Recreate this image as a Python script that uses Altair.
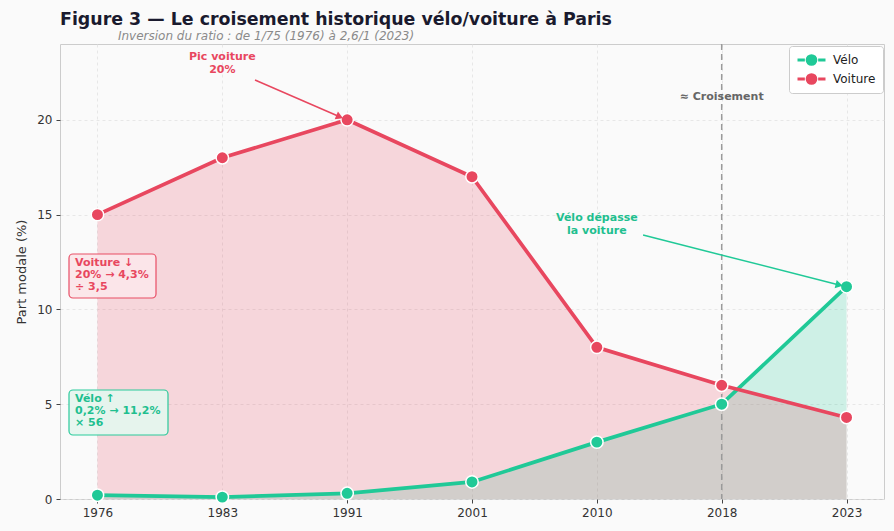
import altair as alt
import pandas as pd

# ---- data ----
years = ["1976", "1983", "1991", "2001", "2010", "2018", "2023"]
velo = [0.2, 0.1, 0.3, 0.9, 3.0, 5.0, 11.2]
voiture = [15.0, 18.0, 20.0, 17.0, 8.0, 6.0, 4.3]
modes = ["Vélo", "Voiture"]

GREEN = "#20c997"
RED = "#e8475f"
FONT = "DejaVu Sans"

rows = []
for i, y in enumerate(years):
    rows.append({"idx": i, "year": y, "mode": "Vélo", "value": velo[i]})
    rows.append({"idx": i, "year": y, "mode": "Voiture", "value": voiture[i]})
df = pd.DataFrame(rows)

label_expr = "[" + ",".join(f"'{y}'" for y in years) + "][datum.value]"

x_enc = alt.X("idx:Q", scale=alt.Scale(domain=[-0.3, 6.3], nice=False, zero=False),
              axis=alt.Axis(values=list(range(len(years))), labelExpr=label_expr, title=None,
                            grid=True, gridDash=[3, 3], gridColor="#e2e2e2", gridWidth=0.8,
                            tickColor="#444", tickSize=4, domain=False,
                            labelFontSize=12, labelColor="#333", labelPadding=4))
y_enc = alt.Y("value:Q", stack=None, scale=alt.Scale(domain=[0, 24], nice=False),
              axis=alt.Axis(values=[0, 5, 10, 15, 20], title="Part modale (%)",
                            grid=True, gridDash=[3, 3], gridColor="#e2e2e2", gridWidth=0.8,
                            tickColor="#444", tickSize=4, domain=False,
                            labelFontSize=12, labelColor="#333", labelPadding=4,
                            titleFontSize=13, titleFontWeight="normal", titleColor="#333",
                            titlePadding=8))

legend = alt.Legend(
    title=None, orient="none", legendX=729, legendY=2,
    padding=7, fillColor="white", strokeColor="#cccccc", cornerRadius=3,
    labelFontSize=12, labelColor="#222", labelFont=FONT, labelOffset=13,
    symbolType="M-2,0L-0.95,0M0.95,0L2,0M0.62,0A0.62,0.62,0,1,1,-0.62,0A0.62,0.62,0,1,1,0.62,0Z",
    symbolSize=196, symbolOffset=7, symbolStrokeWidth=3, symbolOpacity=1,
    rowPadding=5, clipHeight=14,
)
color_enc = alt.Color("mode:N", scale=alt.Scale(domain=modes, range=[GREEN, RED]), legend=legend)

base = alt.Chart(df)

areas = base.mark_area(opacity=0.2, line=False).encode(x=x_enc, y=y_enc, color=color_enc)
lines = base.mark_line(strokeWidth=3.7).encode(x=x_enc, y=y_enc, color=color_enc)
points = base.mark_circle(size=155, opacity=1, stroke="white", strokeWidth=1.5).encode(
    x=x_enc, y=y_enc, color=color_enc)

# vertical dashed line at 2018
vline = alt.Chart(pd.DataFrame({"idx": [5]})).mark_rule(
    color="#9a9a9a", strokeDash=[6, 4], strokeWidth=1.5).encode(x="idx:Q")

croise = alt.Chart(pd.DataFrame({"idx": [5], "value": [21.2]})).mark_text(
    text="≈ Croisement", fontWeight="bold", fontSize=11, color="#666", font=FONT
).encode(x="idx:Q", y="value:Q")

# annotation arrows (data coordinates)
arrows = pd.DataFrame({
    "x1": [1.262, 4.370], "y1": [22.1, 13.92],
    "x2": [1.940, 5.941], "y2": [20.16, 11.29],
    "c": ["Voiture", "Vélo"], "ang": [23, 14],
})
arrow_scale = alt.Scale(domain=modes, range=[GREEN, RED])
arrow_lines = alt.Chart(arrows).mark_rule(strokeWidth=1.5).encode(
    x=alt.X("x1:Q"), y=alt.Y("y1:Q"), x2="x2:Q", y2="y2:Q",
    color=alt.Color("c:N", scale=arrow_scale, legend=None))
arrow_heads = alt.Chart(arrows).mark_point(shape="triangle-right", filled=True, size=70, opacity=1).encode(
    x="x2:Q", y="y2:Q", angle=alt.Angle("ang:Q", scale=None),
    color=alt.Color("c:N", scale=arrow_scale, legend=None))

pic_txt = alt.Chart(pd.DataFrame({"idx": [1.0], "value": [23.3]})).mark_text(
    text=["Pic voiture", "20%"], fontWeight="bold", fontSize=11, color=RED, font=FONT, lineHeight=13
).encode(x="idx:Q", y="value:Q")
dep_txt = alt.Chart(pd.DataFrame({"idx": [4.0], "value": [14.82]})).mark_text(
    text=["Vélo dépasse", "la voiture"], fontWeight="bold", fontSize=11, color="#1fbf8f", font=FONT,
    lineHeight=13
).encode(x="idx:Q", y="value:Q")

one = pd.DataFrame({"a": [0]})
box_v = alt.Chart(one).mark_rect(fill="#fce6ea", stroke=RED, strokeWidth=1.2, cornerRadius=4,
                                 opacity=0.95).encode(
    x=alt.value(9), x2=alt.value(96), y=alt.value(210), y2=alt.value(254))
box_v_txt = alt.Chart(one).mark_text(
    text=["Voiture ↓", "20% → 4,3%", "÷ 3,5"], align="left", baseline="top", fontWeight="bold",
    fontSize=11, color=RED, font=FONT, lineHeight=12
).encode(x=alt.value(15), y=alt.value(213))
box_g = alt.Chart(one).mark_rect(fill="#e6f6ef", stroke=GREEN, strokeWidth=1.2, cornerRadius=4,
                                 opacity=0.95).encode(
    x=alt.value(9), x2=alt.value(108), y=alt.value(346), y2=alt.value(391))
box_g_txt = alt.Chart(one).mark_text(
    text=["Vélo ↑", "0,2% → 11,2%", "× 56"], align="left", baseline="top", fontWeight="bold",
    fontSize=11, color="#1fbf8f", font=FONT, lineHeight=12
).encode(x=alt.value(15), y=alt.value(349))

title_txt = alt.Chart(one).mark_text(
    text="Figure 3 — Le croisement historique vélo/voiture à Paris", align="left",
    baseline="alphabetic", fontWeight="bold", fontSize=17.4, color="#1a1a2e", font=FONT
).encode(x=alt.value(0), y=alt.value(-19))
sub_txt = alt.Chart(one).mark_text(
    text="Inversion du ratio : de 1/75 (1976) à 2,6/1 (2023)", align="center",
    baseline="alphabetic", fontStyle="italic", fontSize=12, color="#8a8a8a", font=FONT
).encode(x=alt.value(206), y=alt.value(-4))

chart = alt.layer(
    areas, vline, lines, points, croise, arrow_lines, arrow_heads, pic_txt, dep_txt,
    box_v, box_v_txt, box_g, box_g_txt, title_txt, sub_txt
).properties(
    width=824, height=455,
    autosize=alt.AutoSizeParams(type="none"),
    padding={"left": 60, "top": 44, "right": 10, "bottom": 32},
    background="#fafafa",
).configure_view(
    fill="#fafafa", stroke="#cccccc", strokeWidth=1
).configure_axis(labelFont=FONT, titleFont=FONT).configure_legend(labelFont=FONT)

chart.save("out.html", embed_options={"renderer": "svg", "actions": False})
